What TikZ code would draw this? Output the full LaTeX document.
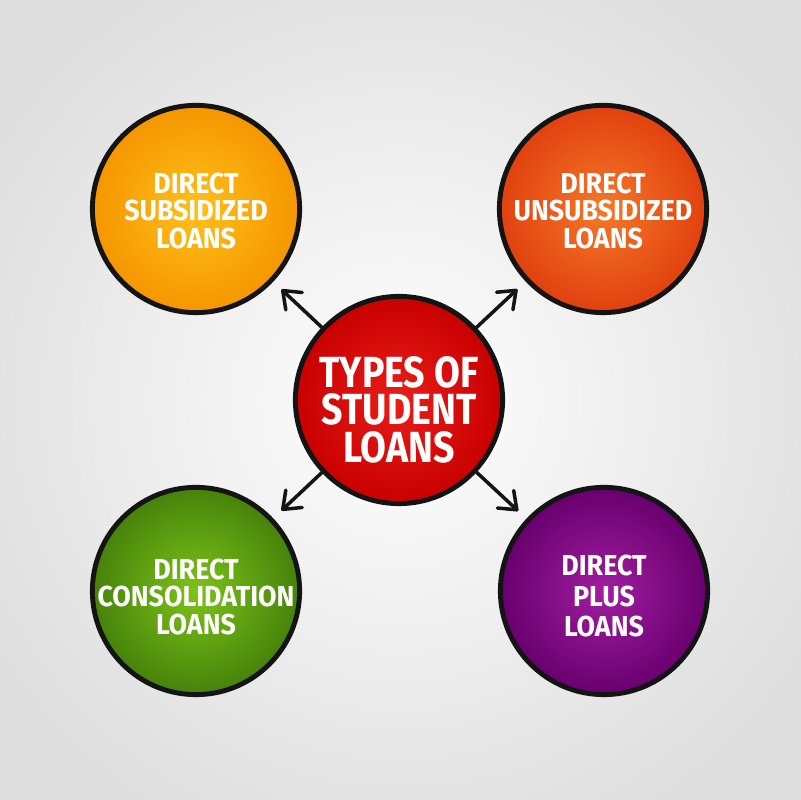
\documentclass[tikz,border=0pt]{standalone}
\usepackage{fontspec}
\setmainfont{Fira Sans}
\usetikzlibrary{arrows.meta}
\definecolor{bgedge}{RGB}{222,222,222}
\definecolor{orgin}{RGB}{255,192,25}
\definecolor{orgout}{RGB}{245,150,0}
\definecolor{rorin}{RGB}{245,120,40}
\definecolor{rorout}{RGB}{225,65,15}
\definecolor{redin}{RGB}{232,30,25}
\definecolor{redout}{RGB}{200,0,0}
\definecolor{grnin}{RGB}{125,195,25}
\definecolor{grnout}{RGB}{70,130,10}
\definecolor{purin}{RGB}{160,30,160}
\definecolor{purout}{RGB}{105,0,110}
\newcommand{\outertxt}[4][-1pt]{\scalebox{0.93}[1]{\fontsize{20.5}{20}\selectfont\bfseries\begin{tabular}{@{}c@{}}#2\\[#1]#3\\[#1]#4\end{tabular}}}
\newcommand{\centertxt}[3]{\scalebox{0.86}[1]{\fontsize{31}{26}\selectfont\bfseries\begin{tabular}{@{}c@{}}#1\\[-3pt]#2\\[-3pt]#3\end{tabular}}}
\begin{document}
\begin{tikzpicture}[x=0.025cm,y=0.025cm,
  bubble/.style={circle, draw=black!92, line width=3.5pt, minimum size=5.18cm,
    inner sep=0pt, shading=radial},
  txt/.style={text=white, inner sep=0pt, align=center},
  link/.style={line width=2.5pt, black!92, line cap=round,
    -{Straight Barb[length=11pt,width=17pt,line width=2.5pt,round]},
    shorten >=8pt}]
\useasboundingbox (0,0) rectangle (800,800);
\shade[inner color=white, outer color=bgedge] (-80,-80) rectangle (880,880);
\node[bubble, inner color=redin, outer color=redout,
  label={[txt, name=ct, yshift=-10.5pt]center:{\centertxt{TYPES OF}{STUDENT}{LOANS}}}]
  (c) at (399,400) {};
\node[bubble, inner color=orgin, outer color=orgout,
  label={[txt, name=tlt, yshift=-4pt]center:{\outertxt{DIRECT}{SUBSIDIZED}{LOANS}}}]
  (tl) at (196,591) {};
\node[bubble, inner color=rorin, outer color=rorout,
  label={[txt, name=trt, yshift=-4pt]center:{\outertxt{DIRECT}{UNSUBSIDIZED}{LOANS}}}]
  (tr) at (603,591) {};
\node[bubble, inner color=grnin, outer color=grnout,
  label={[txt, name=blt, yshift=-7pt]center:{\outertxt{DIRECT}{CONSOLIDATION}{LOANS}}}]
  (bl) at (196,209) {};
\node[bubble, inner color=purin, outer color=purout,
  label={[txt, name=brt, yshift=-6.5pt]center:{\outertxt[1pt]{DIRECT}{PLUS}{LOANS}}}]
  (br) at (604,209) {};
\draw[link] (c) -- (tl);
\draw[link] (c) -- (tr);
\draw[link] (c) -- (bl);
\draw[link] (c) -- (br);
\end{tikzpicture}
\end{document}
